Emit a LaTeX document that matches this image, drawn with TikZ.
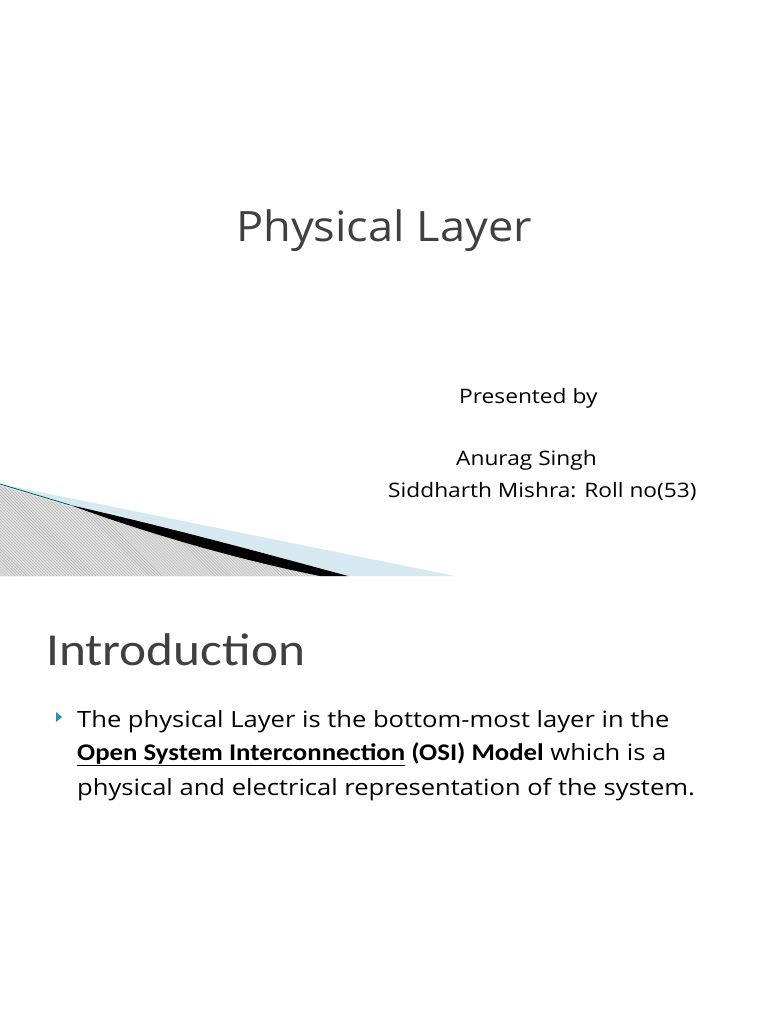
\documentclass[tikz,border=0pt]{standalone}
\usepackage{fontspec}
\setmainfont{Open Sans}[FakeStretch=1.14]
\newfontfamily\carl{Carlito}[FakeStretch=1.12]
\newfontfamily\ttlfont{Open Sans}[FakeStretch=1.08]
\usetikzlibrary{patterns}
\definecolor{ttl}{HTML}{404040}
\definecolor{lblue}{HTML}{D6E8F0}
\definecolor{bul}{HTML}{2E8BC0}
\tikzset{txt/.style={inner sep=0pt,anchor=base west,text=black}}
\begin{document}
\begin{tikzpicture}[x=1bp,y=-1bp]
\useasboundingbox (0,0) rectangle (768,1024);
\fill[white] (0,0) rectangle (768,1024);
% swoosh
\fill[lblue] (0,484) -- (455,576) -- (0,576) -- cycle;
\fill[gray!25] (0,486) .. controls (150,530) and (250,560) .. (345,576) -- (0,576) -- cycle;
\fill[pattern=north west lines,pattern color=gray!60] (0,486) .. controls (150,530) and (250,560) .. (345,576) -- (0,576) -- cycle;
\fill[black] (70,505) .. controls (180,530) and (270,555) .. (348,576) -- (320,576) .. controls (250,562) and (160,538) .. (70,505) -- cycle;
\draw[teal!70!black,line width=0.8] (0,484) -- (70,505);
\node[inner sep=0,anchor=base,text=ttl,font=\ttlfont\fontsize{42}{48}\selectfont] (title) at (384,241) {Physical Layer};
\node[txt,font=\fontsize{20}{24}\selectfont] (pb) at (459,403) {Presented by};
\node[txt,font=\fontsize{20}{24}\selectfont] (a1) at (456,465) {Anurag Singh};
\node[txt,font=\fontsize{20}{24}\selectfont] (a2) at (388,497) {Siddharth Mishra: Roll no(53)};
\node[txt,text=ttl,font=\carl\fontsize{46}{52}\selectfont] (intro) at (46,665) {Introduction};
\fill[bul] (56,712) -- (62,717) -- (56,722) -- cycle;
\node[txt,font=\fontsize{22.5}{28}\selectfont] (l1) at (77,727) {The physical Layer is the bottom-most layer in the};
\node[txt,font=\fontsize{22.5}{28}\selectfont] (l2) at (77,760) {{\carl\bfseries\fontsize{24}{28}\selectfont\underline{Open System Interconnection} (OSI) Model} which is a};
\node[txt,font=\fontsize{22.5}{28}\selectfont] (l3) at (77,795) {physical and electrical representation of the system.};
\end{tikzpicture}
\end{document}
